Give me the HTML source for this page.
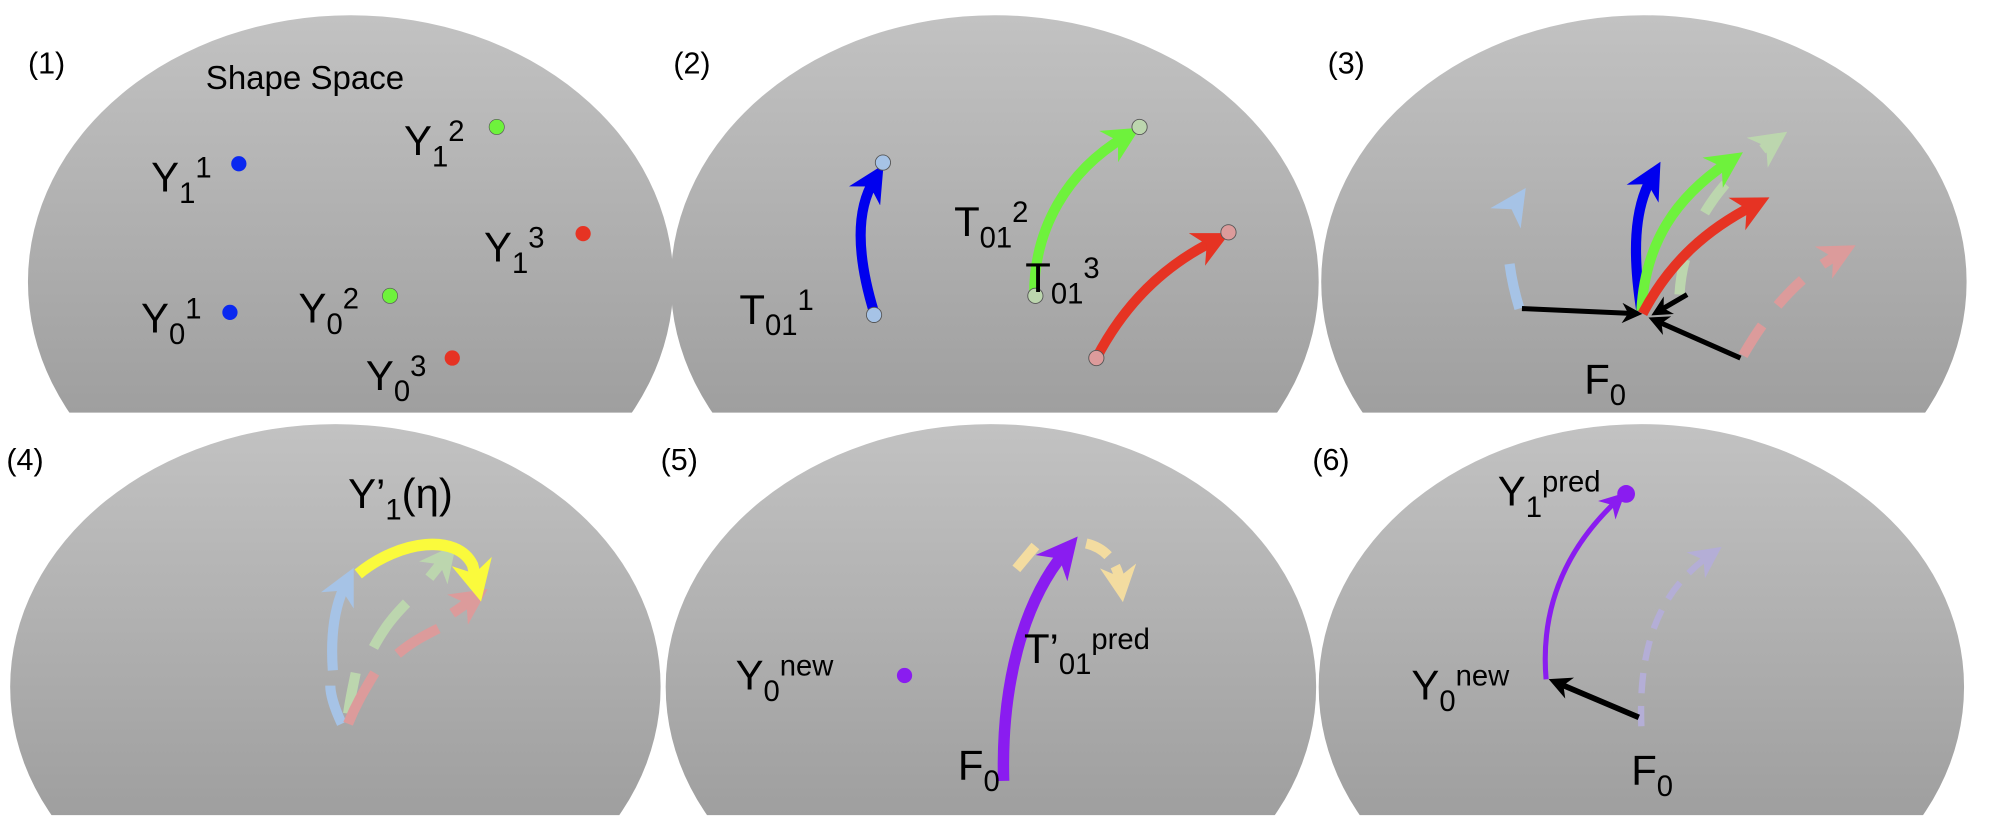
<!DOCTYPE html>
<html><head><meta charset="utf-8"><style>
html,body{margin:0;padding:0;background:#fff;width:1992px;height:838px;overflow:hidden;}
svg{display:block;}
text{font-family:"Liberation Sans",sans-serif;fill:#000;}
</style></head><body>
<svg width="1992" height="838" viewBox="0 0 1568 660" preserveAspectRatio="none" xmlns="http://www.w3.org/2000/svg">
<defs>
<linearGradient id="g" x1="0" y1="0" x2="0" y2="1">
<stop offset="0" stop-color="#c2c2c2"/><stop offset="1" stop-color="#939393"/>
</linearGradient>
<clipPath id="c1"><rect x="0" y="0" width="1568" height="325"/></clipPath>
<clipPath id="c2"><rect x="0" y="330" width="1568" height="312"/></clipPath>
<marker id="mb" viewBox="0 0 10 10" refX="5" refY="5" markerWidth="3.6" markerHeight="3.6" orient="auto"><path d="M0,0 L10,5 L0,10 L3,5z" fill="#0000ee"/></marker>
<marker id="mg" viewBox="0 0 10 10" refX="5" refY="5" markerWidth="3.6" markerHeight="3.6" orient="auto"><path d="M0,0 L10,5 L0,10 L3,5z" fill="#6ef23c"/></marker>
<marker id="mr" viewBox="0 0 10 10" refX="5" refY="5" markerWidth="3.6" markerHeight="3.6" orient="auto"><path d="M0,0 L10,5 L0,10 L3,5z" fill="#e63323"/></marker>
<marker id="mlb" viewBox="0 0 10 10" refX="5" refY="5" markerWidth="3.6" markerHeight="3.6" orient="auto"><path d="M0,0 L10,5 L0,10 L3,5z" fill="#a6c3e6"/></marker>
<marker id="mlg" viewBox="0 0 10 10" refX="5" refY="5" markerWidth="3.6" markerHeight="3.6" orient="auto"><path d="M0,0 L10,5 L0,10 L3,5z" fill="#bcd6ae"/></marker>
<marker id="mlr" viewBox="0 0 10 10" refX="5" refY="5" markerWidth="3.6" markerHeight="3.6" orient="auto"><path d="M0,0 L10,5 L0,10 L3,5z" fill="#dc9b9b"/></marker>
<marker id="my" viewBox="0 0 10 10" refX="5" refY="5" markerWidth="3.6" markerHeight="3.6" orient="auto"><path d="M0,0 L10,5 L0,10 L3,5z" fill="#fafa3c"/></marker>
<marker id="mly" viewBox="0 0 10 10" refX="5" refY="5" markerWidth="3.6" markerHeight="3.6" orient="auto"><path d="M0,0 L10,5 L0,10 L3,5z" fill="#f3dca0"/></marker>
<marker id="mp" viewBox="0 0 10 10" refX="5" refY="5" markerWidth="3.6" markerHeight="3.6" orient="auto"><path d="M0,0 L10,5 L0,10 L3,5z" fill="#8a1cf0"/></marker>
<marker id="mp2" viewBox="0 0 10 10" refX="5" refY="5" markerWidth="5" markerHeight="5" orient="auto"><path d="M0,0 L10,5 L0,10 L3,5z" fill="#8a1cf0"/></marker>
<marker id="mlp" viewBox="0 0 10 10" refX="5" refY="5" markerWidth="5" markerHeight="5" orient="auto"><path d="M0,0 L10,5 L0,10 L3,5z" fill="#b4aed6"/></marker>
<marker id="mk" viewBox="0 0 10 10" refX="7" refY="5" markerWidth="4" markerHeight="4" orient="auto"><path d="M0,0 L10,5 L0,10 L3,5z" fill="#000"/></marker>
</defs>

<g clip-path="url(#c1)" fill="url(#g)">
<ellipse cx="276" cy="222" rx="254" ry="210"/>
<ellipse cx="783" cy="222" rx="255" ry="210"/>
<ellipse cx="1294" cy="222" rx="254" ry="210"/>
</g>
<g clip-path="url(#c2)" fill="url(#g)">
<ellipse cx="264" cy="541" rx="256" ry="207"/>
<ellipse cx="780" cy="541" rx="256" ry="207"/>
<ellipse cx="1292" cy="541" rx="254" ry="207"/>
</g>

<g font-size="24">
<text x="22" y="58">(1)</text><text x="530" y="58">(2)</text><text x="1045" y="58">(3)</text>
<text x="5" y="370">(4)</text><text x="520" y="370">(5)</text><text x="1033" y="370">(6)</text>
</g>

<!-- Panel 1 -->
<text x="162" y="70" font-size="26">Shape Space</text>
<g font-size="33">
<text x="119" y="151">Y<tspan font-size="23" dy="9">1</tspan><tspan font-size="23" dy="-20">1</tspan></text>
<text x="318" y="122">Y<tspan font-size="23" dy="9">1</tspan><tspan font-size="23" dy="-20">2</tspan></text>
<text x="381" y="206">Y<tspan font-size="23" dy="9">1</tspan><tspan font-size="23" dy="-20">3</tspan></text>
<text x="111" y="262">Y<tspan font-size="23" dy="9">0</tspan><tspan font-size="23" dy="-20">1</tspan></text>
<text x="235" y="254">Y<tspan font-size="23" dy="9">0</tspan><tspan font-size="23" dy="-20">2</tspan></text>
<text x="288" y="307">Y<tspan font-size="23" dy="9">0</tspan><tspan font-size="23" dy="-20">3</tspan></text>
</g>
<circle cx="188" cy="129" r="6" fill="#0a28f0"/>
<circle cx="391" cy="100" r="6" fill="#6ef23c" stroke="#555" stroke-width="0.5"/>
<circle cx="459" cy="184" r="6" fill="#e63323"/>
<circle cx="181" cy="246" r="6" fill="#0a28f0"/>
<circle cx="307" cy="233" r="6" fill="#6ef23c" stroke="#555" stroke-width="0.5"/>
<circle cx="356" cy="282" r="6" fill="#e63323"/>

<!-- Panel 2 -->
<path d="M688,246 C674,200 674,165 688,142" stroke="#0000ee" stroke-width="8" fill="none" marker-end="url(#mb)"/>
<path d="M814,232 C814,180 840,135 885,108" stroke="#6ef23c" stroke-width="8" fill="none" marker-end="url(#mg)"/>
<path d="M863,282 C885,240 915,210 955,190" stroke="#e63323" stroke-width="8" fill="none" marker-end="url(#mr)"/>
<circle cx="688" cy="248" r="6" fill="#a6c3e6" stroke="#555" stroke-width="0.7"/>
<circle cx="695" cy="128" r="6" fill="#a6c3e6" stroke="#555" stroke-width="0.7"/>
<circle cx="815" cy="233" r="6" fill="#bcd6ae" stroke="#555" stroke-width="0.7"/>
<circle cx="897" cy="100" r="6" fill="#bcd6ae" stroke="#555" stroke-width="0.7"/>
<circle cx="863" cy="282" r="6" fill="#dc9b9b" stroke="#555" stroke-width="0.7"/>
<circle cx="967" cy="183" r="6" fill="#dc9b9b" stroke="#555" stroke-width="0.7"/>
<g font-size="33">
<text x="582" y="255">T<tspan font-size="23" dy="9">01</tspan><tspan font-size="23" dy="-20">1</tspan></text>
<text x="751" y="186">T<tspan font-size="23" dy="9">01</tspan><tspan font-size="23" dy="-20">2</tspan></text>
<text x="807" y="230">T<tspan font-size="23" dy="9">01</tspan><tspan font-size="23" dy="-20">3</tspan></text>
</g>

<!-- Panel 3 -->
<path d="M1196,243 C1186,210 1183,175 1193,160" stroke="#a6c3e6" stroke-width="8" fill="none" stroke-dasharray="36,44" marker-end="url(#mlb)"/>
<path d="M1372,280 C1395,240 1420,215 1448,200" stroke="#dc9b9b" stroke-width="8" fill="none" stroke-dasharray="28,20" marker-end="url(#mlr)"/>
<path d="M1322,232 C1325,180 1355,140 1395,112" stroke="#bcd6ae" stroke-width="8" fill="none" stroke-dasharray="28,40" marker-end="url(#mlg)"/>
<path d="M1292,245 C1285,200 1286,165 1300,140" stroke="#0000ee" stroke-width="8" fill="none" marker-end="url(#mb)"/>
<path d="M1292,245 C1295,190 1320,155 1360,128" stroke="#6ef23c" stroke-width="8" fill="none" marker-end="url(#mg)"/>
<path d="M1293,247 C1315,205 1345,180 1380,162" stroke="#e63323" stroke-width="8" fill="none" marker-end="url(#mr)"/>
<line x1="1198" y1="243" x2="1288" y2="247" stroke="#000" stroke-width="4" marker-end="url(#mk)"/>
<line x1="1370" y1="282" x2="1302" y2="252" stroke="#000" stroke-width="4" marker-end="url(#mk)"/>
<line x1="1328" y1="232" x2="1304" y2="246" stroke="#000" stroke-width="4" marker-end="url(#mk)"/>
<text x="1247" y="310" font-size="33">F<tspan font-size="23" dy="9">0</tspan></text>

<!-- Panel 4 -->
<text x="274" y="400" font-size="33">Y’<tspan font-size="23" dy="9">1</tspan><tspan dy="-9">(η)</tspan></text>
<path d="M269,570 C262,555 260,545 260,540" stroke="#a6c3e6" stroke-width="8" fill="none"/>
<path d="M262,528 C260,500 263,478 272,460" stroke="#a6c3e6" stroke-width="8" fill="none" marker-end="url(#mlb)"/>
<path d="M274,562 C276,548 278,540 280,530" stroke="#bcd6ae" stroke-width="8" fill="none"/>
<path d="M294,510 C302,495 310,485 320,475" stroke="#bcd6ae" stroke-width="8" fill="none"/>
<path d="M338,455 L350,440" stroke="#bcd6ae" stroke-width="8" fill="none" marker-end="url(#mlg)"/>
<path d="M274,570 C280,555 286,545 295,530" stroke="#dc9b9b" stroke-width="8" fill="none"/>
<path d="M313,515 C325,505 335,500 345,495" stroke="#dc9b9b" stroke-width="8" fill="none"/>
<path d="M356,483 L372,472" stroke="#dc9b9b" stroke-width="8" fill="none" marker-end="url(#mlr)"/>
<path d="M282,452 C315,425 360,420 372,445 L375,458" stroke="#fafa3c" stroke-width="9" fill="none" marker-end="url(#my)"/>

<!-- Panel 5 -->
<path d="M800,448 L815,430" stroke="#f3dca0" stroke-width="8" fill="none"/>
<path d="M855,428 C872,432 880,445 882,460" stroke="#f3dca0" stroke-width="8" fill="none" stroke-dasharray="20,10" marker-end="url(#mly)"/>
<path d="M790,615 C788,540 805,475 838,435" stroke="#8a1cf0" stroke-width="9" fill="none" marker-end="url(#mp)"/>
<text x="579" y="543" font-size="33">Y<tspan font-size="23" dy="9">0</tspan><tspan font-size="23" dy="-20">new</tspan></text>
<circle cx="712" cy="532" r="6" fill="#8a1cf0"/>
<text x="806" y="522" font-size="33">T’<tspan font-size="23" dy="9">01</tspan><tspan font-size="23" dy="-20">pred</tspan></text>
<text x="754" y="614" font-size="33">F<tspan font-size="23" dy="9">0</tspan></text>

<!-- Panel 6 -->
<path d="M1292,572 C1290,520 1300,470 1345,438" stroke="#b4aed6" stroke-width="5" fill="none" stroke-dasharray="16,10" marker-end="url(#mlp)"/>
<path d="M1217,535 C1212,475 1235,430 1272,395" stroke="#8a1cf0" stroke-width="4" fill="none" marker-end="url(#mp2)"/>
<circle cx="1280" cy="389" r="7" fill="#8a1cf0"/>
<line x1="1290" y1="565" x2="1224" y2="537" stroke="#000" stroke-width="4.5" marker-end="url(#mk)"/>
<text x="1179" y="398" font-size="33">Y<tspan font-size="23" dy="9">1</tspan><tspan font-size="23" dy="-20">pred</tspan></text>
<text x="1111" y="551" font-size="33">Y<tspan font-size="23" dy="9">0</tspan><tspan font-size="23" dy="-20">new</tspan></text>
<text x="1284" y="618" font-size="33">F<tspan font-size="23" dy="9">0</tspan></text>
</svg>
</body></html>
